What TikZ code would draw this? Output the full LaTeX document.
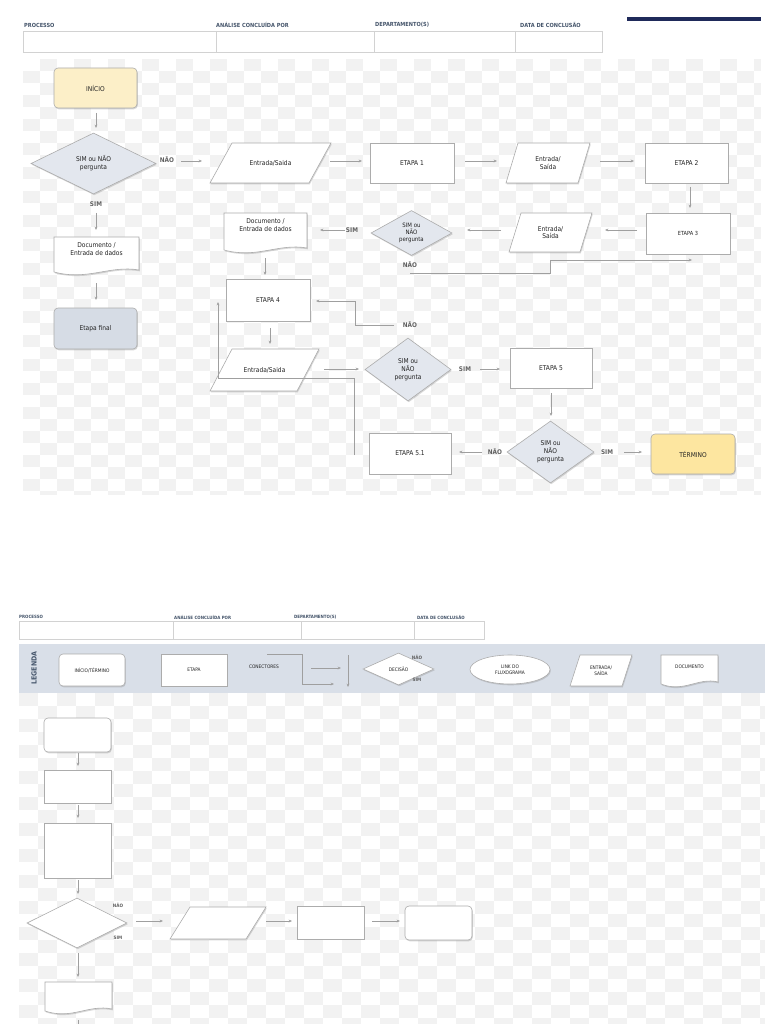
\documentclass[tikz,border=0pt]{standalone}
\usepackage{fontspec}
\setmainfont{DejaVu Sans Condensed}
\usetikzlibrary{shadows,shapes.geometric,arrows.meta}
\definecolor{navy}{HTML}{1F2A5A}
\definecolor{hdr}{HTML}{44546A}
\definecolor{ylw}{HTML}{FCEFC8}
\definecolor{ylw2}{HTML}{FDE6A0}
\definecolor{dec}{HTML}{E3E7EE}
\definecolor{fin}{HTML}{D6DCE5}
\definecolor{band}{HTML}{D9DFE8}
\definecolor{chk}{HTML}{F2F2F2}
\definecolor{txt}{HTML}{222222}
\tikzset{
  shp/.style={draw=gray!65, line width=0.6pt, fill=white, drop shadow={opacity=0.3,shadow xshift=0.8pt,shadow yshift=-1.3pt}},
  rbox/.style={shp, inner sep=0pt},
  lbl/.style={font=\fontsize{6.6}{7.8}\selectfont, text=txt, align=center, inner sep=0pt},
  slbl/.style={font=\fontsize{4.8}{5.6}\selectfont, text=txt, align=center, inner sep=0pt},
  yn/.style={font=\bfseries\fontsize{6.4}{7}\selectfont, text=gray!75!black, inner sep=0pt},
  syn/.style={font=\bfseries\fontsize{4.6}{5}\selectfont, text=gray!75!black, inner sep=0pt},
  hd/.style={font=\bfseries\fontsize{5.6}{6}\selectfont, text=hdr, anchor=west, inner sep=0pt},
  shd/.style={font=\bfseries\fontsize{4.4}{5}\selectfont, text=hdr, anchor=west, inner sep=0pt},
  arr/.style={draw=gray!75, line width=0.7pt, -{Stealth[length=3.4pt,width=2.8pt]}},
  ln/.style={draw=gray!75, line width=0.7pt},
  cell/.style={draw=gray!35, line width=0.5pt, fill=white},
}
\newcommand\para[8]{% name x1 y1 x2 y2 slant text style
  \path[shp] ({#2+#6},#3)--(#4,#3)--({#4-#6},#5)--(#2,#5)--cycle;
  \node[#8] (#1) at ({(#2+#4)/2},{(#3+#5)/2}) {#7};}
\newcommand\docu[7]{% name x1 y1 x2 y2 text style
  \path[shp] (#2,#3)--(#4,#3)--(#4,{#5-2}) .. controls ({#4-(#4-#2)*0.35},{#5-7}) and ({#2+(#4-#2)*0.4},{#5+9}) .. (#2,#5)--cycle;
  \node[#7] (#1) at ({(#2+#4)/2},{#3+12}) {#6};}
\begin{document}
\begin{tikzpicture}[x=1pt,y=-1pt]
\useasboundingbox (0,0) rectangle (768,1024);
\fill[white] (0,0) rectangle (768,1024);
% ---------- top header
\fill[navy] (627,17) rectangle (761,21);
\node[hd] (h1) at (24,25) {PROCESSO};
\node[hd] (h2) at (216,25) {ANÁLISE CONCLUÍDA POR};
\node[hd] (h3) at (375,25) {DEPARTAMENTO(S)};
\node[hd] (h4) at (520,25) {DATA DE CONCLUSÃO};
\draw[cell] (23,31) rectangle (602,52);
\foreach \x in {216,374,515} \draw[gray!35,line width=0.5pt] (\x,31)--(\x,52);
% ---------- top panel checker
\fill[chk] (23,59) rectangle (761,495);
\begin{scope}
\clip (23,59) rectangle (761,495);
\foreach \i in {0,...,43} \foreach \j in {0,...,36} {
  \pgfmathtruncatemacro\k{mod(\i+\j,2)}
  \ifnum\k=0 \fill[white] ({23+\i*17},{59+\j*12}) rectangle ++(17,12); \fi }
\end{scope}
% ---------- top flowchart
\node[rbox, rounded corners=4pt, fill=ylw, minimum width=83pt, minimum height=40pt, lbl] (ini) at (95.5,88) {INÍCIO};
\node[shp, diamond, aspect=2, fill=dec, minimum width=125pt, minimum height=61pt, inner sep=0pt, lbl] (d1) at (93.5,163.5) {SIM ou NÃO\\pergunta};
\draw[arr] (96,113)--(96,128);
\node[yn] (n1) at (167,160) {NÃO};
\draw[arr] (181,161)--(202,161);
\para{p1}{210}{143}{331}{183}{22}{Entrada/Saida}{lbl}
\draw[arr] (330,161)--(362,161);
\node[rbox, minimum width=84pt, minimum height=40pt, lbl] (e1) at (412,163) {ETAPA 1};
\draw[arr] (465,161)--(497,161);
\para{p2}{506}{143}{590}{183}{12}{Entrada/\\Saída}{lbl}
\draw[arr] (600,161)--(634,161);
\node[rbox, minimum width=83pt, minimum height=40pt, lbl] (e2) at (686.5,163) {ETAPA 2};
\draw[arr] (690,187)--(690,208);
\node[rbox, minimum width=84pt, minimum height=41pt, font=\fontsize{5.6}{6}\selectfont, text=txt] (e3) at (688,233.5) {ETAPA 3};
\draw[arr] (637,230)--(605,230);
\para{p3}{509}{213}{592}{252}{12}{Entrada/\\Saída}{lbl}
\draw[arr] (501,230)--(467,230);
\node[shp, diamond, aspect=1.75, fill=dec, minimum width=81pt, minimum height=45pt, inner sep=0pt, lbl, font=\fontsize{6}{6.8}\selectfont] (d2) at (411.5,233) {SIM ou\\NÃO\\pergunta};
\node[yn] (s2) at (352,230) {SIM};
\draw[arr] (345,230)--(320,230);
\docu{doc2}{224}{213}{307}{250}{Documento /\\Entrada de dados}{lbl}
\node[yn] (n2) at (410,265) {NÃO};
\coordinate (n2a) at (410,273);
\coordinate (n2b) at (692,260);
\draw[arr] (n2a)--(550,273)--(550,260)--(n2b);
\draw[arr] (265,258)--(265,275);
\node[rbox, minimum width=84pt, minimum height=42pt, lbl] (e4) at (268,300) {ETAPA 4};
\node[yn] (n3) at (410,325) {NÃO};
\draw[arr] (394,325)--(355,325)--(355,301)--(316,301);
\draw[arr] (270,328)--(270,344);
\para{p4}{210}{349}{319}{391}{22}{Entrada/Saida}{lbl}
\draw[arr] (354,455)--(354,378)--(218,378)--(218,302);
\draw[arr] (324,369)--(359,369);
\node[shp, diamond, aspect=1.35, fill=dec, minimum width=86pt, minimum height=63pt, inner sep=0pt, lbl] (d3) at (408,369.5) {SIM ou\\NÃO\\pergunta};
\node[yn] (s3) at (465,369) {SIM};
\draw[arr] (480,369)--(500,369);
\node[rbox, minimum width=82pt, minimum height=40pt, lbl] (e5) at (551,368) {ETAPA 5};
\draw[arr] (551,393)--(551,416);
\node[shp, diamond, aspect=1.4, fill=dec, minimum width=87pt, minimum height=62pt, inner sep=0pt, lbl] (d4) at (550.5,452) {SIM ou\\NÃO\\pergunta};
\node[yn] (n4) at (495,452) {NÃO};
\draw[arr] (482,452)--(459,452);
\node[rbox, minimum width=82pt, minimum height=41pt, lbl] (e51) at (410,453.5) {ETAPA 5.1};
\node[yn] (s4) at (607,452) {SIM};
\draw[arr] (624,452)--(642,452);
\node[rbox, rounded corners=4pt, fill=ylw2, minimum width=84pt, minimum height=40pt, lbl] (ter) at (693,454) {TÉRMINO};
% left column
\node[yn] (s1) at (96,204) {SIM};
\draw[arr] (96,213)--(96,230);
\docu{doc1}{54}{237}{139}{272}{Documento /\\Entrada de dados}{lbl}
\draw[arr] (96,283)--(96,300);
\node[rbox, rounded corners=4pt, fill=fin, minimum width=83pt, minimum height=41pt, lbl] (fin) at (95.5,328.5) {Etapa final};
% ---------- bottom header
\node[shd] (b1) at (19,617) {PROCESSO};
\node[shd] (b2) at (174,617) {ANÁLISE CONCLUÍDA POR};
\node[shd] (b3) at (294,617) {DEPARTAMENTO(S)};
\node[shd] (b4) at (417,617) {DATA DE CONCLUSÃO};
\draw[cell] (19,621) rectangle (484,639);
\foreach \x in {173,301,414} \draw[gray!35,line width=0.5pt] (\x,621)--(\x,639);
% legend band
\fill[band] (19,644) rectangle (765,693);
\node[font=\bfseries\fontsize{7}{8}\selectfont, text=hdr, rotate=90] (leg) at (34,668) {LEGENDA};
\node[rbox, rounded corners=4pt, minimum width=66pt, minimum height=32pt, slbl] (l1) at (92,670) {INÍCIO/TÉRMINO};
\node[rbox, minimum width=66pt, minimum height=32pt, slbl] (l2) at (194,670) {ETAPA};
\node[slbl] (l3) at (264,667) {CONECTORES};
\coordinate (c1) at (267,654); \coordinate (c2) at (334,684);
\draw[arr] (c1)--(302,654)--(302,684)--(c2);
\draw[arr] (311,668)--(341,668);
\draw[arr] (348,655)--(348,687);
\node[shp, diamond, aspect=2.2, minimum width=71pt, minimum height=32pt, inner sep=0pt, slbl] (l4) at (398.5,669) {DECISÃO};
\node[syn] (l4n) at (417,657) {NÃO};
\node[syn] (l4s) at (417,680) {SIM};
\node[shp, ellipse, minimum width=80pt, minimum height=29pt, inner sep=0pt, slbl] (l5) at (510,669.5) {LINK DO\\FLUXOGRAMA};
\para{l6}{570}{655}{632}{686}{10}{ENTRADA/\\SAÍDA}{slbl}
\docu{l7}{661}{655}{718}{684}{DOCUMENTO}{slbl}
% ---------- bottom panel checker
\fill[chk] (19,693) rectangle (765,1024);
\begin{scope}
\clip (19,693) rectangle (765,1024);
\foreach \i in {0,...,39} \foreach \j in {0,...,25} {
  \pgfmathtruncatemacro\k{mod(\i+\j,2)}
  \ifnum\k=1 \fill[white] ({19+\i*19},{693+\j*13}) rectangle ++(19,13); \fi }
\end{scope}
\node[rbox, rounded corners=4pt, minimum width=67pt, minimum height=34pt] (q1) at (77.5,735) {};
\draw[arr] (78,753)--(78,766);
\node[rbox, minimum width=67pt, minimum height=33pt] (q2) at (77.5,786.5) {};
\draw[arr] (78,805)--(78,818);
\node[rbox, minimum width=67pt, minimum height=55pt] (q3) at (77.5,850.5) {};
\draw[arr] (78,880)--(78,894);
\node[shp, diamond, aspect=2, minimum width=100pt, minimum height=50pt, inner sep=0pt] (q4) at (77,923) {};
\node[syn] (q4n) at (118,905) {NÃO};
\node[syn] (q4s) at (118,938) {SIM};
\draw[arr] (136,921)--(163,921);
\para{q5}{170}{907}{266}{939}{20}{}{lbl}
\draw[arr] (266,921)--(292,921);
\node[rbox, minimum width=67pt, minimum height=33pt] (q6) at (330.5,922.5) {};
\draw[arr] (372,921)--(400,921);
\node[rbox, rounded corners=4pt, minimum width=67pt, minimum height=34pt] (q7) at (438.5,923) {};
\draw[arr] (78,953)--(78,977);
\docu{q8}{45}{982}{112}{1011}{}{lbl}
\draw[ln] (78,1020)--(78,1024);
\end{tikzpicture}
\end{document}
